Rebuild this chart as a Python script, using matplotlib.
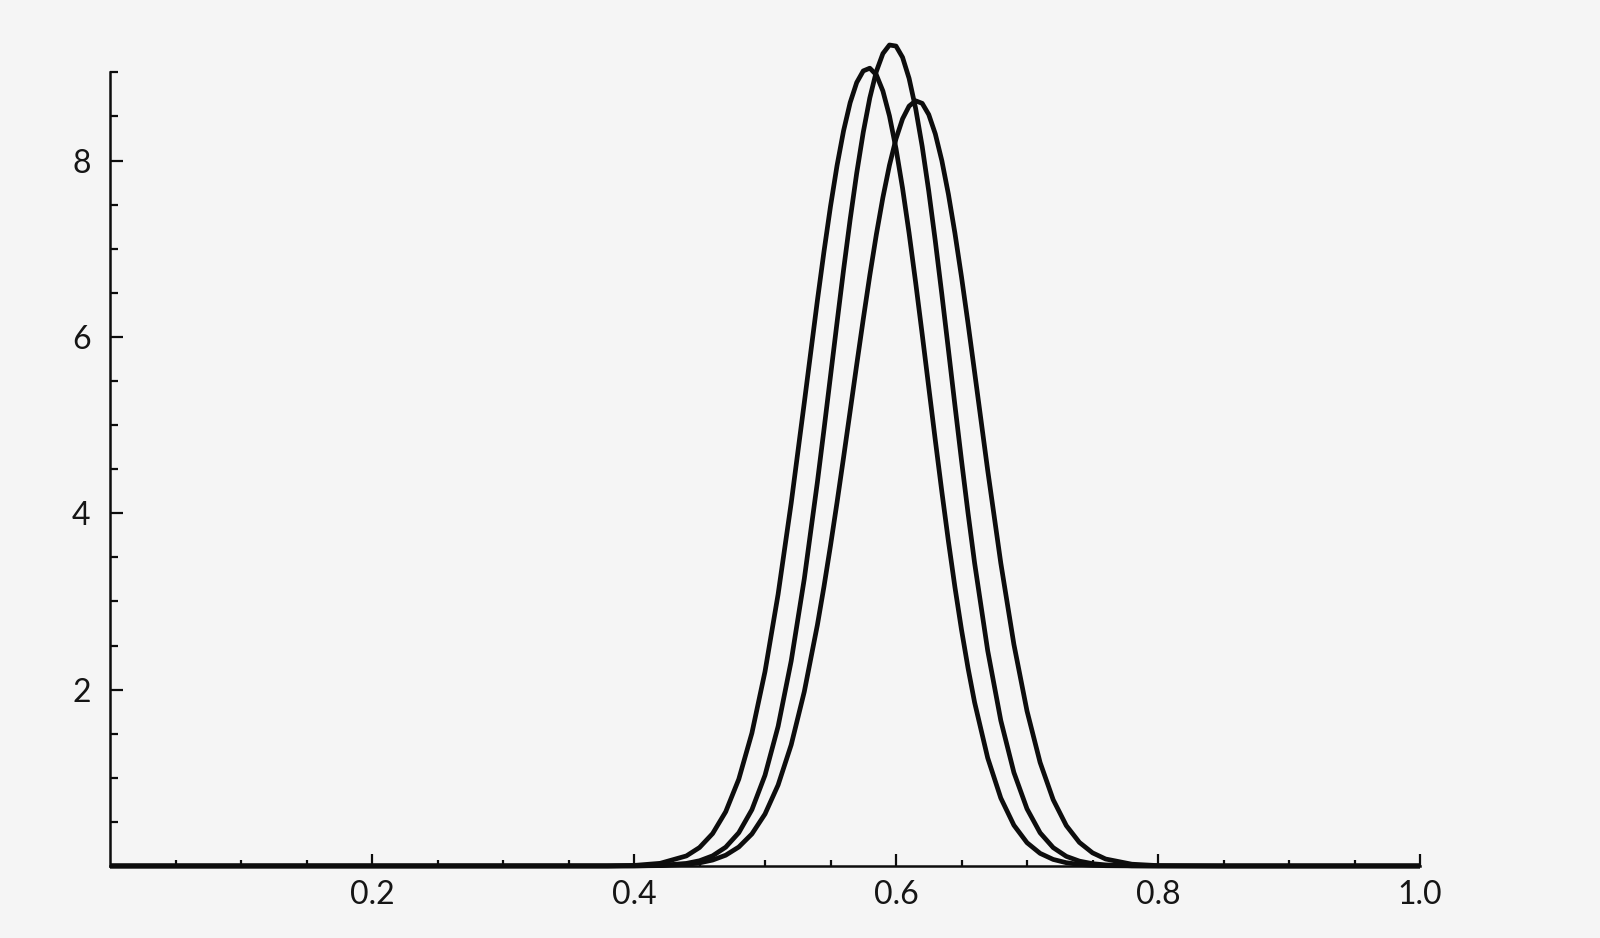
import matplotlib
matplotlib.use("Agg")
import matplotlib.pyplot as plt
from matplotlib.ticker import FixedLocator

# x grid shared by the three density curves (finer around the peaks)
x_vals = [0.0, 0.38, 0.40, 0.42,
          0.44, 0.45, 0.46, 0.47, 0.48, 0.49, 0.50, 0.51, 0.52, 0.53, 0.54,
          0.545, 0.55, 0.555, 0.56, 0.565, 0.57, 0.575, 0.58, 0.585, 0.59,
          0.595, 0.60, 0.605, 0.61, 0.615, 0.62, 0.625, 0.63, 0.635, 0.64,
          0.645, 0.65, 0.655, 0.66,
          0.67, 0.68, 0.69, 0.70, 0.71, 0.72, 0.73, 0.74, 0.75, 0.76,
          0.78, 0.80, 0.85, 1.0]

# curve peaking near 0.58
curve_a = [0.0, 0.001, 0.006, 0.030,
           0.114, 0.209, 0.367, 0.615, 0.985, 1.507, 2.204, 3.081, 4.116, 5.255, 6.414,
           6.966, 7.481, 7.944, 8.340, 8.657, 8.885, 9.017, 9.048, 8.972, 8.789,
           8.507, 8.136, 7.687, 7.176, 6.617, 6.030, 5.429, 4.829, 4.244, 3.684,
           3.160, 2.679, 2.243, 1.855,
           1.225, 0.770, 0.462, 0.264, 0.143, 0.074, 0.037, 0.017, 0.008, 0.003,
           0.001, 0.0, 0.0, 0.0]

# curve peaking near 0.60
curve_b = [0.0, 0.0, 0.001, 0.006,
           0.029, 0.059, 0.115, 0.213, 0.377, 0.638, 1.029, 1.583, 2.325, 3.257, 4.354,
           4.947, 5.556, 6.165, 6.764, 7.332, 7.857, 8.321, 8.710, 9.011, 9.214,
           9.311, 9.299, 9.171, 8.932, 8.591, 8.160, 7.653, 7.088, 6.483, 5.856,
           5.222, 4.600, 4.001, 3.436,
           2.442, 1.650, 1.060, 0.648, 0.376, 0.208, 0.109, 0.055, 0.026, 0.012,
           0.002, 0.0, 0.0, 0.0]

# curve peaking near 0.62
curve_c = [0.0, 0.0, 0.001, 0.004,
           0.018, 0.035, 0.067, 0.122, 0.215, 0.363, 0.589, 0.918, 1.374, 1.977, 2.734,
           3.167, 3.633, 4.124, 4.636, 5.159, 5.685, 6.201, 6.698, 7.162, 7.582,
           7.947, 8.247, 8.473, 8.618, 8.678, 8.649, 8.522, 8.303, 7.999, 7.619,
           7.175, 6.681, 6.152, 5.600,
           4.487, 3.435, 2.513, 1.758, 1.174, 0.751, 0.458, 0.267, 0.149, 0.079,
           0.020, 0.004, 0.0, 0.0]

x_major = [0.2, 0.4, 0.6, 0.8, 1.0]
x_labels = ["0.2", "0.4", "0.6", "0.8", "1.0"]
y_major = [2, 4, 6, 8]
y_labels = ["2", "4", "6", "8"]

bg = "#f5f5f5"
ink = "#0d0d0d"

fig = plt.figure(figsize=(16, 9.38), dpi=100, facecolor=bg)
ax = fig.add_axes([0.06875, 0.0768, 0.81875, 0.893])
ax.set_facecolor(bg)

for ys in (curve_a, curve_b, curve_c):
    ax.plot(x_vals, ys, color=ink, lw=3.4, solid_capstyle="butt",
            solid_joinstyle="round", clip_on=False, zorder=3)

ax.set_xlim(0, 1)
ax.set_ylim(0, 9.5)

for side in ("top", "right"):
    ax.spines[side].set_visible(False)
ax.spines["left"].set_bounds(0, 9)
ax.spines["bottom"].set_bounds(0, 1)
ax.spines["left"].set_linewidth(1.8)
ax.spines["bottom"].set_linewidth(1.8)
ax.spines["left"].set_color(ink)
ax.spines["bottom"].set_color(ink)

ax.xaxis.set_major_locator(FixedLocator(x_major))
ax.set_xticklabels(x_labels)
ax.xaxis.set_minor_locator(FixedLocator([0.05, 0.1, 0.15, 0.25, 0.3, 0.35,
                                         0.45, 0.5, 0.55, 0.65, 0.7, 0.75,
                                         0.85, 0.9, 0.95]))
ax.yaxis.set_major_locator(FixedLocator(y_major))
ax.set_yticklabels(y_labels)
ax.yaxis.set_minor_locator(FixedLocator([0.5, 1, 1.5, 2.5, 3, 3.5, 4.5, 5, 5.5,
                                         6.5, 7, 7.5, 8.5, 9]))

ax.tick_params(axis="both", which="both", direction="in", colors=ink,
               width=1.6, labelsize=23, labelcolor="#151515")
ax.tick_params(axis="x", which="major", length=9, pad=10)
ax.tick_params(axis="x", which="minor", length=4.5)
ax.tick_params(axis="y", which="major", length=9.5, pad=14)
ax.tick_params(axis="y", which="minor", length=5.5)

for lab in ax.get_xticklabels() + ax.get_yticklabels():
    lab.set_family(["Lato", "DejaVu Sans"])

fig.savefig("out.png", dpi=100, facecolor=bg)
